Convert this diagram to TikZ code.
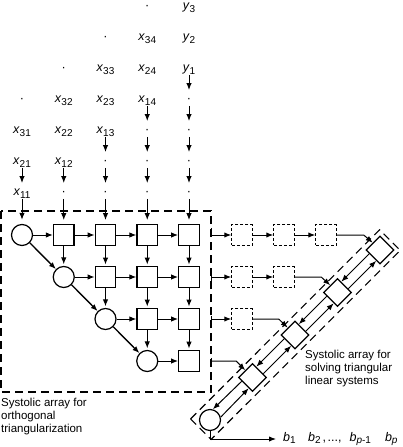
\documentclass[tikz,border=0pt]{standalone}
\usepackage{fontspec}
\setmainfont{Liberation Sans}
\usetikzlibrary{arrows.meta,calc}
\newcommand{\vsub}[2]{\textit{#1}\raisebox{-0.45ex}{\fontsize{10}{10}\selectfont #2}}
\begin{document}
\begin{tikzpicture}[x=1pt,y=-1pt,
 arr/.style={-{Latex[length=7pt,width=5.4pt]}, line width=1pt},
 inarr/.style={arr, shorten >=4pt},
 barr/.style={{Bar[width=7pt]}-{Latex[length=7pt,width=5.4pt]}, line width=1pt},
 diagarr/.style={arr, line width=1.3pt},
 pe/.style={draw, line width=1.2pt, inner sep=0pt},
 sq/.style={pe, rectangle, minimum size=20.5pt},
 cir/.style={pe, circle, minimum size=21pt},
 dsq/.style={draw, dash pattern=on 3pt off 2pt, line width=1pt, minimum size=20.5pt, inner sep=0pt},
 dia/.style={pe, rectangle, minimum size=19.5pt, rotate=45},
 lbl/.style={inner sep=0pt, text height=8.5pt, text depth=3pt, font=\fontsize{12.5}{14}\selectfont},
 bigdash/.style={dash pattern=on 8pt off 5pt, line width=1.1pt},
 captxt/.style={align=left, inner sep=0pt, font=\fontsize{11.5}{13.2}\selectfont}]
\useasboundingbox (0,0) rectangle (402,447);

% processor grid
\foreach \rr/\yy in {1/235,2/277,3/319,4/361}{
  \foreach \cc/\xx in {1/22,2/63.75,3/105.5,4/147.25,5/189}{
    \ifnum\cc=\rr \node[cir] (g\rr\cc) at (\xx,\yy) {};\fi
    \ifnum\cc>\rr \node[sq] (g\rr\cc) at (\xx,\yy) {};\fi
  }
}
\foreach \rr in {1,...,4}{
  \foreach \cc in {\rr,...,4}{
    \pgfmathtruncatemacro{\nn}{\cc+1}
    \draw[arr] (g\rr\cc) -- (g\rr\nn);
  }
}
\foreach \rr in {1,2,3}{
  \pgfmathtruncatemacro{\nr}{\rr+1}
  \foreach \cc in {\nr,...,5}{
    \draw[arr, shorten >=1.5pt] (g\rr\cc) -- (g\nr\cc);
  }
  \draw[diagarr] (g\rr\rr) -- (g\nr\nr);
}

% left dashed box
\draw[bigdash] (1,211) rectangle (211,392);

% input labels
\node[lbl] (t14) at (22,100) {·};
\node[lbl] (t15) at (22,131) {\vsub{x}{31}};
\node[lbl] (t16) at (22,162) {\vsub{x}{21}};
\node[lbl] (t17) at (22,193) {\vsub{x}{11}};

\node[lbl] (t23) at (63.75,69) {·};
\node[lbl] (t24) at (63.75,100) {\vsub{x}{32}};
\node[lbl] (t25) at (63.75,131) {\vsub{x}{22}};
\node[lbl] (t26) at (63.75,162) {\vsub{x}{12}};
\node[lbl] (t27) at (63.75,193) {·};

\node[lbl] (t32) at (105.5,38) {·};
\node[lbl] (t33) at (105.5,69) {\vsub{x}{33}};
\node[lbl] (t34) at (105.5,100) {\vsub{x}{23}};
\node[lbl] (t35) at (105.5,131) {\vsub{x}{13}};
\node[lbl] (t36) at (105.5,162) {·};
\node[lbl] (t37) at (105.5,193) {·};

\node[lbl] (t41) at (147.25,7) {·};
\node[lbl] (t42) at (147.25,38) {\vsub{x}{34}};
\node[lbl] (t43) at (147.25,69) {\vsub{x}{24}};
\node[lbl] (t44) at (147.25,100) {\vsub{x}{14}};
\node[lbl] (t45) at (147.25,131) {·};
\node[lbl] (t46) at (147.25,162) {·};
\node[lbl] (t47) at (147.25,193) {·};

\node[lbl] (t51) at (189,7) {\vsub{y}{3}};
\node[lbl] (t52) at (189,38) {\vsub{y}{2}};
\node[lbl] (t53) at (189,69) {\vsub{y}{1}};
\node[lbl] (t54) at (189,100) {·};
\node[lbl] (t55) at (189,131) {·};
\node[lbl] (t56) at (189,162) {·};
\node[lbl] (t57) at (189,193) {·};

\draw[inarr] (t16) -- (t17);
\draw[inarr] (t17) -- (g11);
\draw[inarr] (t26) -- (t27);
\draw[inarr] (t27) -- (g12);
\draw[inarr] (t35) -- (t36);
\draw[inarr] (t36) -- (t37);
\draw[inarr] (t37) -- (g13);
\draw[inarr] (t44) -- (t45);
\draw[inarr] (t45) -- (t46);
\draw[inarr] (t46) -- (t47);
\draw[inarr] (t47) -- (g14);
\draw[inarr] (t53) -- (t54);
\draw[inarr] (t54) -- (t55);
\draw[inarr] (t55) -- (t56);
\draw[inarr] (t56) -- (t57);
\draw[inarr] (t57) -- (g15);

% dashed delay squares
\node[dsq] (e11) at (242,235) {};
\node[dsq] (e12) at (284,235) {};
\node[dsq] (e13) at (326,235) {};
\node[dsq] (e21) at (242,277) {};
\node[dsq] (e22) at (284,277) {};
\node[dsq] (e31) at (242,319) {};

% triangular solver array
\node[dia] (d1) at (380,250) {};
\node[dia] (d2) at (337.5,292.5) {};
\node[dia] (d3) at (295,335) {};
\node[dia] (d4) at (252.5,377.5) {};
\node[cir] (c0) at (210,420) {};

\coordinate (b1) at (211,228);
\coordinate (b2) at (211,277);
\coordinate (b3) at (211,319);
\coordinate (b4) at (211,361);

\draw[arr] (b1) |- (e11.west);
\draw[barr] (b2) -- (e21.west);
\draw[barr] (b3) -- (e31.west);
\draw[arr] (e11) -- (e12);
\draw[arr] (e12) -- (e13);
\draw[arr] (e21) -- (e22);

\coordinate (k1) at ([xshift=-9pt]d1.north);
\coordinate (k2) at ([xshift=-9pt]d2.north);
\coordinate (k3) at ([xshift=-9pt]d3.north);
\coordinate (k4) at ([xshift=-9pt]d4.north);
\draw[arr] (e13.east) -- (k1 |- e13.east) -- (d1.north);
\draw[arr] (e22.east) -- (k2 |- e22.east) -- (d2.north);
\draw[arr] (e31.east) -- (k3 |- e31.east) -- (d3.north);
\draw[barr] (b4) -- (k4 |- b4) -- (d4.north);

\foreach \lo/\hi in {d4/d3, d3/d2, d2/d1}{
  \draw[arr] ([shift={(-3.5,-3.5)}]\hi.west) -- ([shift={(-3.5,-3.5)}]\lo.east);
  \draw[arr] ([shift={(3.5,3.5)}]\lo.east) -- ([shift={(3.5,3.5)}]\hi.west);
}
\draw[arr] ([shift={(-3.5,-3.5)}]d4.west) -- (c0.75);
\draw[arr] (c0.15) -- ([shift={(3.5,3.5)}]d4.west);

\draw[bigdash] (190.6,418.9) -- (379.6,229.8) -- (400.2,250.4) -- (211.1,439.4) -- cycle;

\coordinate (bo) at (276,439);
\draw[arr] (c0.south) |- (bo);
\node[lbl, anchor=base west] (bl) at (283,441)
  {\vsub{b}{1}\hspace{12.5pt}\vsub{b}{2}\hspace{2pt},\hspace{1.5pt}...,\hspace{8pt}\vsub{b}{\textit{p}-1}\hspace{14pt}\vsub{b}{\textit{p}}};

\node[captxt, anchor=north west] (capL) at (1,398) {Systolic array for\\orthogonal\\triangularization};
\node[captxt, anchor=north west] (capR) at (305,350) {Systolic array for\\solving triangular\\linear systems};
\end{tikzpicture}
\end{document}
